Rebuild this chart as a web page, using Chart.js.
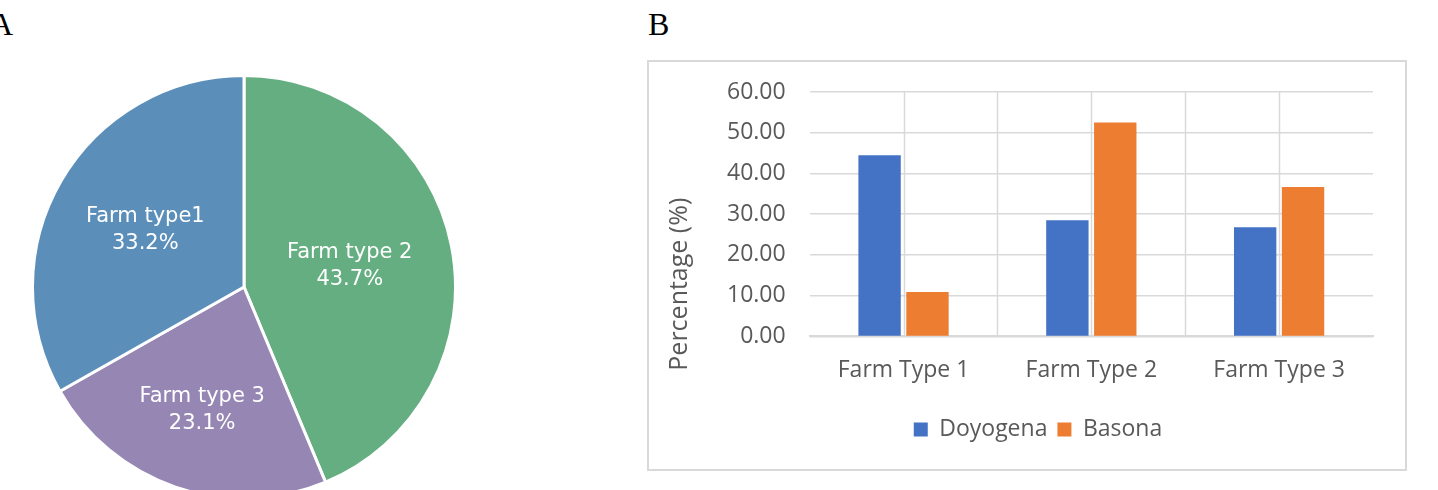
<!DOCTYPE html>
<html>
<head>
<meta charset="utf-8">
<script src="https://cdn.jsdelivr.net/npm/chart.js@4/dist/chart.umd.min.js"></script>
<style>
  html, body { margin: 0; padding: 0; background: #fff; width: 1438px; height: 490px; overflow: hidden; }
  .tag { position: absolute; top: 6px; font-family: "Liberation Serif", "DejaVu Serif", serif; font-size: 32px; color: #000; }
  #pieBox { position: absolute; left: 31px; top: 74px; width: 426px; height: 426px; }
  #barBox { position: absolute; left: 647px; top: 60px; width: 756px; height: 407px; border: 2px solid #d9d9d9; }
</style>
</head>
<body>
<div class="tag" style="left:-10px">A</div>
<div class="tag" style="left:648px">B</div>
<div id="pieBox"><canvas id="pie"></canvas></div>
<div id="barBox"><canvas id="bar"></canvas></div>
<script>
// panel A
const pieLabels = ['Farm type 2', 'Farm type 3', 'Farm type1'];
const pieValues = [43.7, 23.1, 33.2];
// panel B
const categories = ['Farm Type 1', 'Farm Type 2', 'Farm Type 3'];
const doyogena = [44.5, 28.5, 26.8];
const basona = [10.9, 52.5, 36.7];
const yTicks = [0, 10, 20, 30, 40, 50, 60];
const yTitle = 'Percentage (%)';

const pieColors = ['#64ae81', '#9586b3', '#5b8fba'];
const labelRadius = [0.51, 0.61, 0.54];

// white text inside each slice
const sliceLabels = {
  id: 'sliceLabels',
  afterDatasetsDraw(chart) {
    const ctx = chart.ctx;
    const meta = chart.getDatasetMeta(0);
    ctx.save();
    ctx.fillStyle = '#fff';
    ctx.font = '21px "DejaVu Sans", Verdana, sans-serif';
    ctx.textAlign = 'center';
    ctx.textBaseline = 'middle';
    meta.data.forEach((arc, i) => {
      const mid = (arc.startAngle + arc.endAngle) / 2;
      const r = arc.outerRadius * labelRadius[i];
      const x = arc.x + Math.cos(mid) * r;
      const y = arc.y + Math.sin(mid) * r;
      ctx.fillText(pieLabels[i], x, y - 13);
      ctx.fillText(pieValues[i].toFixed(1) + '%', x, y + 14);
    });
    ctx.restore();
  }
};

new Chart(document.getElementById('pie'), {
  type: 'pie',
  data: {
    labels: pieLabels,
    datasets: [{ data: pieValues, backgroundColor: pieColors, borderColor: '#fff', borderWidth: 3 }]
  },
  options: {
    responsive: true, maintainAspectRatio: false, animation: false,
    plugins: { legend: { display: false }, tooltip: { enabled: false } }
  },
  plugins: [sliceLabels]
});

const font = { family: '"Open Sans", Calibri, sans-serif', size: 23 };

// Excel-style vertical lines at category centres and between categories,
// plus the y title which Excel centres a bit lower than the plot
const excelBits = {
  id: 'excelBits',
  beforeDatasetsDraw(chart) {
    const x = chart.scales.x, area = chart.chartArea, ctx = chart.ctx;
    const xs = [];
    for (let i = 0; i < categories.length; i++) {
      xs.push(x.getPixelForTick(i));
      if (i < categories.length - 1) xs.push((x.getPixelForTick(i) + x.getPixelForTick(i + 1)) / 2);
    }
    ctx.save();
    ctx.strokeStyle = '#d9d9d9';
    ctx.lineWidth = 1.5;
    xs.forEach(px => {
      ctx.beginPath();
      ctx.moveTo(Math.round(px) + 0.5, area.top);
      ctx.lineTo(Math.round(px) + 0.5, area.bottom);
      ctx.stroke();
    });
    ctx.restore();
  },
  afterDraw(chart) {
    const ctx = chart.ctx, area = chart.chartArea;
    ctx.save();
    ctx.translate(31, (area.top + area.bottom) / 2 + 70);
    ctx.rotate(-Math.PI / 2);
    ctx.fillStyle = '#595959';
    ctx.font = '25px "Open Sans", Calibri, sans-serif';
    ctx.textAlign = 'center';
    ctx.textBaseline = 'middle';
    ctx.fillText(yTitle, 0, 0);
    ctx.restore();
  }
};

new Chart(document.getElementById('bar'), {
  type: 'bar',
  data: {
    labels: categories,
    datasets: [
      { label: 'Doyogena', data: doyogena, backgroundColor: '#4472c4', categoryPercentage: 0.51, barPercentage: 0.885 },
      { label: 'Basona', data: basona, backgroundColor: '#ed7d31', categoryPercentage: 0.51, barPercentage: 0.885 }
    ]
  },
  options: {
    responsive: true, maintainAspectRatio: false, animation: false,
    layout: { padding: { left: 54, right: 32, top: 30, bottom: 18 } },
    scales: {
      x: {
        grid: { display: false },
        border: { color: '#d9d9d9', width: 2 },
        ticks: { color: '#595959', font, padding: 12 },
        afterFit: s => { s.height += 12; }
      },
      y: {
        min: 0, max: 60,
        afterBuildTicks: s => { s.ticks = yTicks.map(v => ({ value: v })); },
        // tick padding would otherwise also push the plot top down
        afterFit: s => { s.paddingTop = 14; },
        grid: { color: '#d9d9d9', lineWidth: 1.5, drawTicks: false },
        border: { display: false },
        ticks: { color: '#595959', font, padding: 24, callback: v => Number(v).toFixed(2) }
      }
    },
    plugins: {
      legend: {
        position: 'bottom',
        labels: { color: '#595959', font, boxWidth: 14, boxHeight: 14, padding: 10 }
      },
      tooltip: { enabled: false }
    }
  },
  plugins: [excelBits]
});
</script>
</body>
</html>
